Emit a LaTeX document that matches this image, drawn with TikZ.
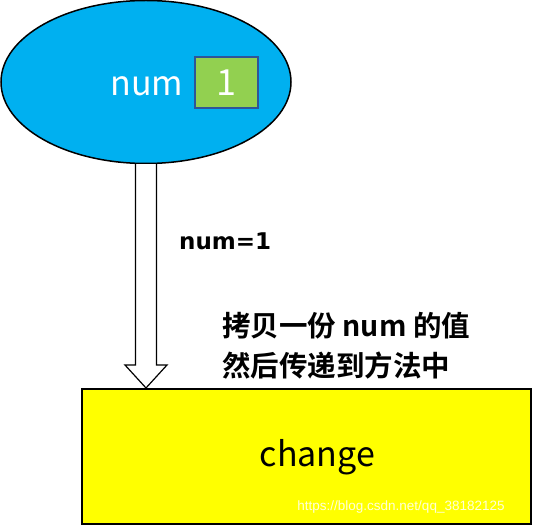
\documentclass[tikz,border=0pt]{standalone}
\usepackage{fontspec}
\setmainfont{Noto Sans CJK SC}[BoldFont={Noto Sans CJK SC Bold}]
\newfontfamily\dvb{DejaVu Sans}
\newfontfamily\lib{Liberation Sans}
\usetikzlibrary{shapes.geometric,calc}
\definecolor{skyb}{HTML}{00B0F0}
\definecolor{grn}{HTML}{92D050}
\definecolor{grnb}{HTML}{2F5597}
\definecolor{yel}{HTML}{FFFF00}
\tikzset{
  bubble/.style={ellipse,draw=black,line width=1.5pt,fill=skyb,minimum width=290pt,minimum height=163pt,inner sep=0pt},
  valbox/.style={draw=grnb,line width=1.5pt,fill=grn,minimum width=63pt,minimum height=51pt,inner sep=0pt},
  methodbox/.style={draw=black,line width=2pt,fill=yel,minimum width=449pt,minimum height=135pt,inner sep=0pt},
  bigtxt/.style={inner sep=0pt,anchor=base,font=\fontsize{34}{34}\selectfont},
  bigarrow/.style={draw=black,line width=1.2pt,fill=white,line join=miter},
  lbl/.style={inner sep=0pt,anchor=west,font=\dvb\bfseries\fontsize{23}{23}\selectfont},
  cnlbl/.style={inner sep=0pt,anchor=west,align=left,font=\bfseries\fontsize{28.5}{40}\selectfont},
}
\begin{document}
\begin{tikzpicture}[x=1pt,y=-1pt]
\useasboundingbox (0,0) rectangle (533,526);
\node[bubble] (ell) at (146,82) {};
\node[bigtxt,text=white] (numtxt) at (147,96) {num};
\node[valbox] (val) at (226.5,82.5) {};
\node[bigtxt,text=white,font=\fontsize{36}{36}\selectfont] (one) at (226.5,96) {1};
\node[methodbox] (meth) at (306.5,456.5) {};
\node[bigtxt] (chg) at (317.5,467) {change};
\coordinate (tip) at (ell.south |- meth.north);
\draw[bigarrow] ($(ell.south)+(-10.5,0)$) -- ($(tip)+(-10.5,-23)$) -- ($(tip)+(-21,-23)$) -- (tip)
  -- ($(tip)+(21,-23)$) -- ($(tip)+(10.5,-23)$) -- ($(ell.south)+(10.5,0)$);
\node[lbl] (eq) at (179,241) {num=1};
\node[cnlbl] (cn) at (222,346) {拷贝一份 num 的值\\然后传递到方法中};
\node[inner sep=0pt,text=white,opacity=0.85,font=\lib\fontsize{13.5}{13.5}\selectfont] (wm) at (401,507) {https://blog.csdn.net/qq\_38182125};
\end{tikzpicture}
\end{document}
